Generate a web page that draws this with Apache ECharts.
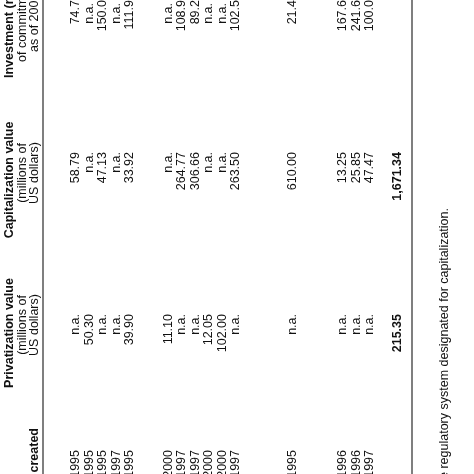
<!DOCTYPE html>
<html>
<head>
<meta charset="utf-8">
<script src="https://cdn.jsdelivr.net/npm/echarts@6/dist/echarts.min.js"></script>
<style>html,body{margin:0;padding:0;background:#fff}#main{width:474px;height:474px}</style>
</head>
<body>
<div id="main"></div>
<script>
// Table data (rows grouped)
var groups = [5, 6, 1, 3];
var years = ["1995", "1995", "1995", "1997", "1995", "2000", "1997", "1997", "2000", "2000", "1997", "1995", "1996", "1996", "1997"];
var privatization = ["n.a.", "50.30", "n.a.", "n.a.", "39.90", "11.10", "n.a.", "n.a.", "12.05", "102.00", "n.a.", "n.a.", "n.a.", "n.a.", "n.a."];
var capitalization = ["58.79", "n.a.", "47.13", "n.a.", "33.92", "n.a.", "264.77", "306.66", "n.a.", "n.a.", "263.50", "610.00", "13.25", "25.85", "47.47"];
var investment = ["74.7", "n.a.", "150.0", "n.a.", "111.9", "n.a.", "108.9", "89.2", "n.a.", "n.a.", "102.5", "21.4", "167.6", "241.6", "100.0"];
var totals = { privatization: "215.35", capitalization: "1,671.34" };
var headers = {
  year: ["Year created"],
  privatization: ["Privatization value", "(millions of", "US dollars)"],
  capitalization: ["Capitalization value", "(millions of", "US dollars)"],
  investment: ["Investment (millions", "of commitments", "as of 2001)"]
};
var footnote = "a. Companies in the regulatory system designated for capitalization.";

var chart = echarts.init(document.getElementById("main"));
var font = "Liberation Sans, Arial, sans-serif";
var els = [];

function txt(x, y, s, align, bold) {
  els.push({
    type: "text", x: x, y: y, rotation: Math.PI / 2,
    style: { text: s, align: align, verticalAlign: "middle", fill: "#111",
      font: (bold ? "bold " : "") + "12.5px " + font }
  });
}

// row positions
var rowX = [];
var x = 76;
groups.forEach(function (n) {
  for (var i = 0; i < n; i++) { rowX.push(x); x += 13.5; }
  x += 25;
});
rowX[11] = 293;
for (var k = 12; k < 15; k++) rowX[k] = 343 + (k - 12) * 13.5;
var totalX = 398;

// column right edges (top of rotated text)
var colTop = { year: 450, privatization: 314, capitalization: 152, investment: 0 };

years.forEach(function (v, i) { txt(rowX[i], colTop.year, v, "right"); });
privatization.forEach(function (v, i) { txt(rowX[i], colTop.privatization, v, "right"); });
capitalization.forEach(function (v, i) { txt(rowX[i], colTop.capitalization, v, "right"); });
investment.forEach(function (v, i) { txt(rowX[i], v === "n.a." ? 3 : colTop.investment, v, "right"); });
txt(totalX, colTop.privatization, totals.privatization, "right", true);
txt(totalX, colTop.capitalization, totals.capitalization, "right", true);

// headers
var hx = [10, 23, 35];
headers.privatization.forEach(function (s, i) { txt(hx[i], i ? 325 : 333, s, "center", i === 0); });
headers.capitalization.forEach(function (s, i) { txt(hx[i], i ? 173 : 180, s, "center", i === 0); });
txt(hx[0], 78, headers.investment[0], "left", true);
txt(hx[1], 62, headers.investment[1], "left");
txt(hx[2], 52, headers.investment[2], "left");
txt(35, 428, headers.year[0], "right", true);

// rules
[43, 412].forEach(function (lx) {
  els.push({ type: "line", shape: { x1: lx, y1: 0, x2: lx, y2: 474 },
    style: { stroke: "#555", lineWidth: 1.5 } });
});
txt(445, 208, footnote, "right");

chart.setOption({ animation: false, graphic: { elements: els } });
</script>
</body>
</html>
